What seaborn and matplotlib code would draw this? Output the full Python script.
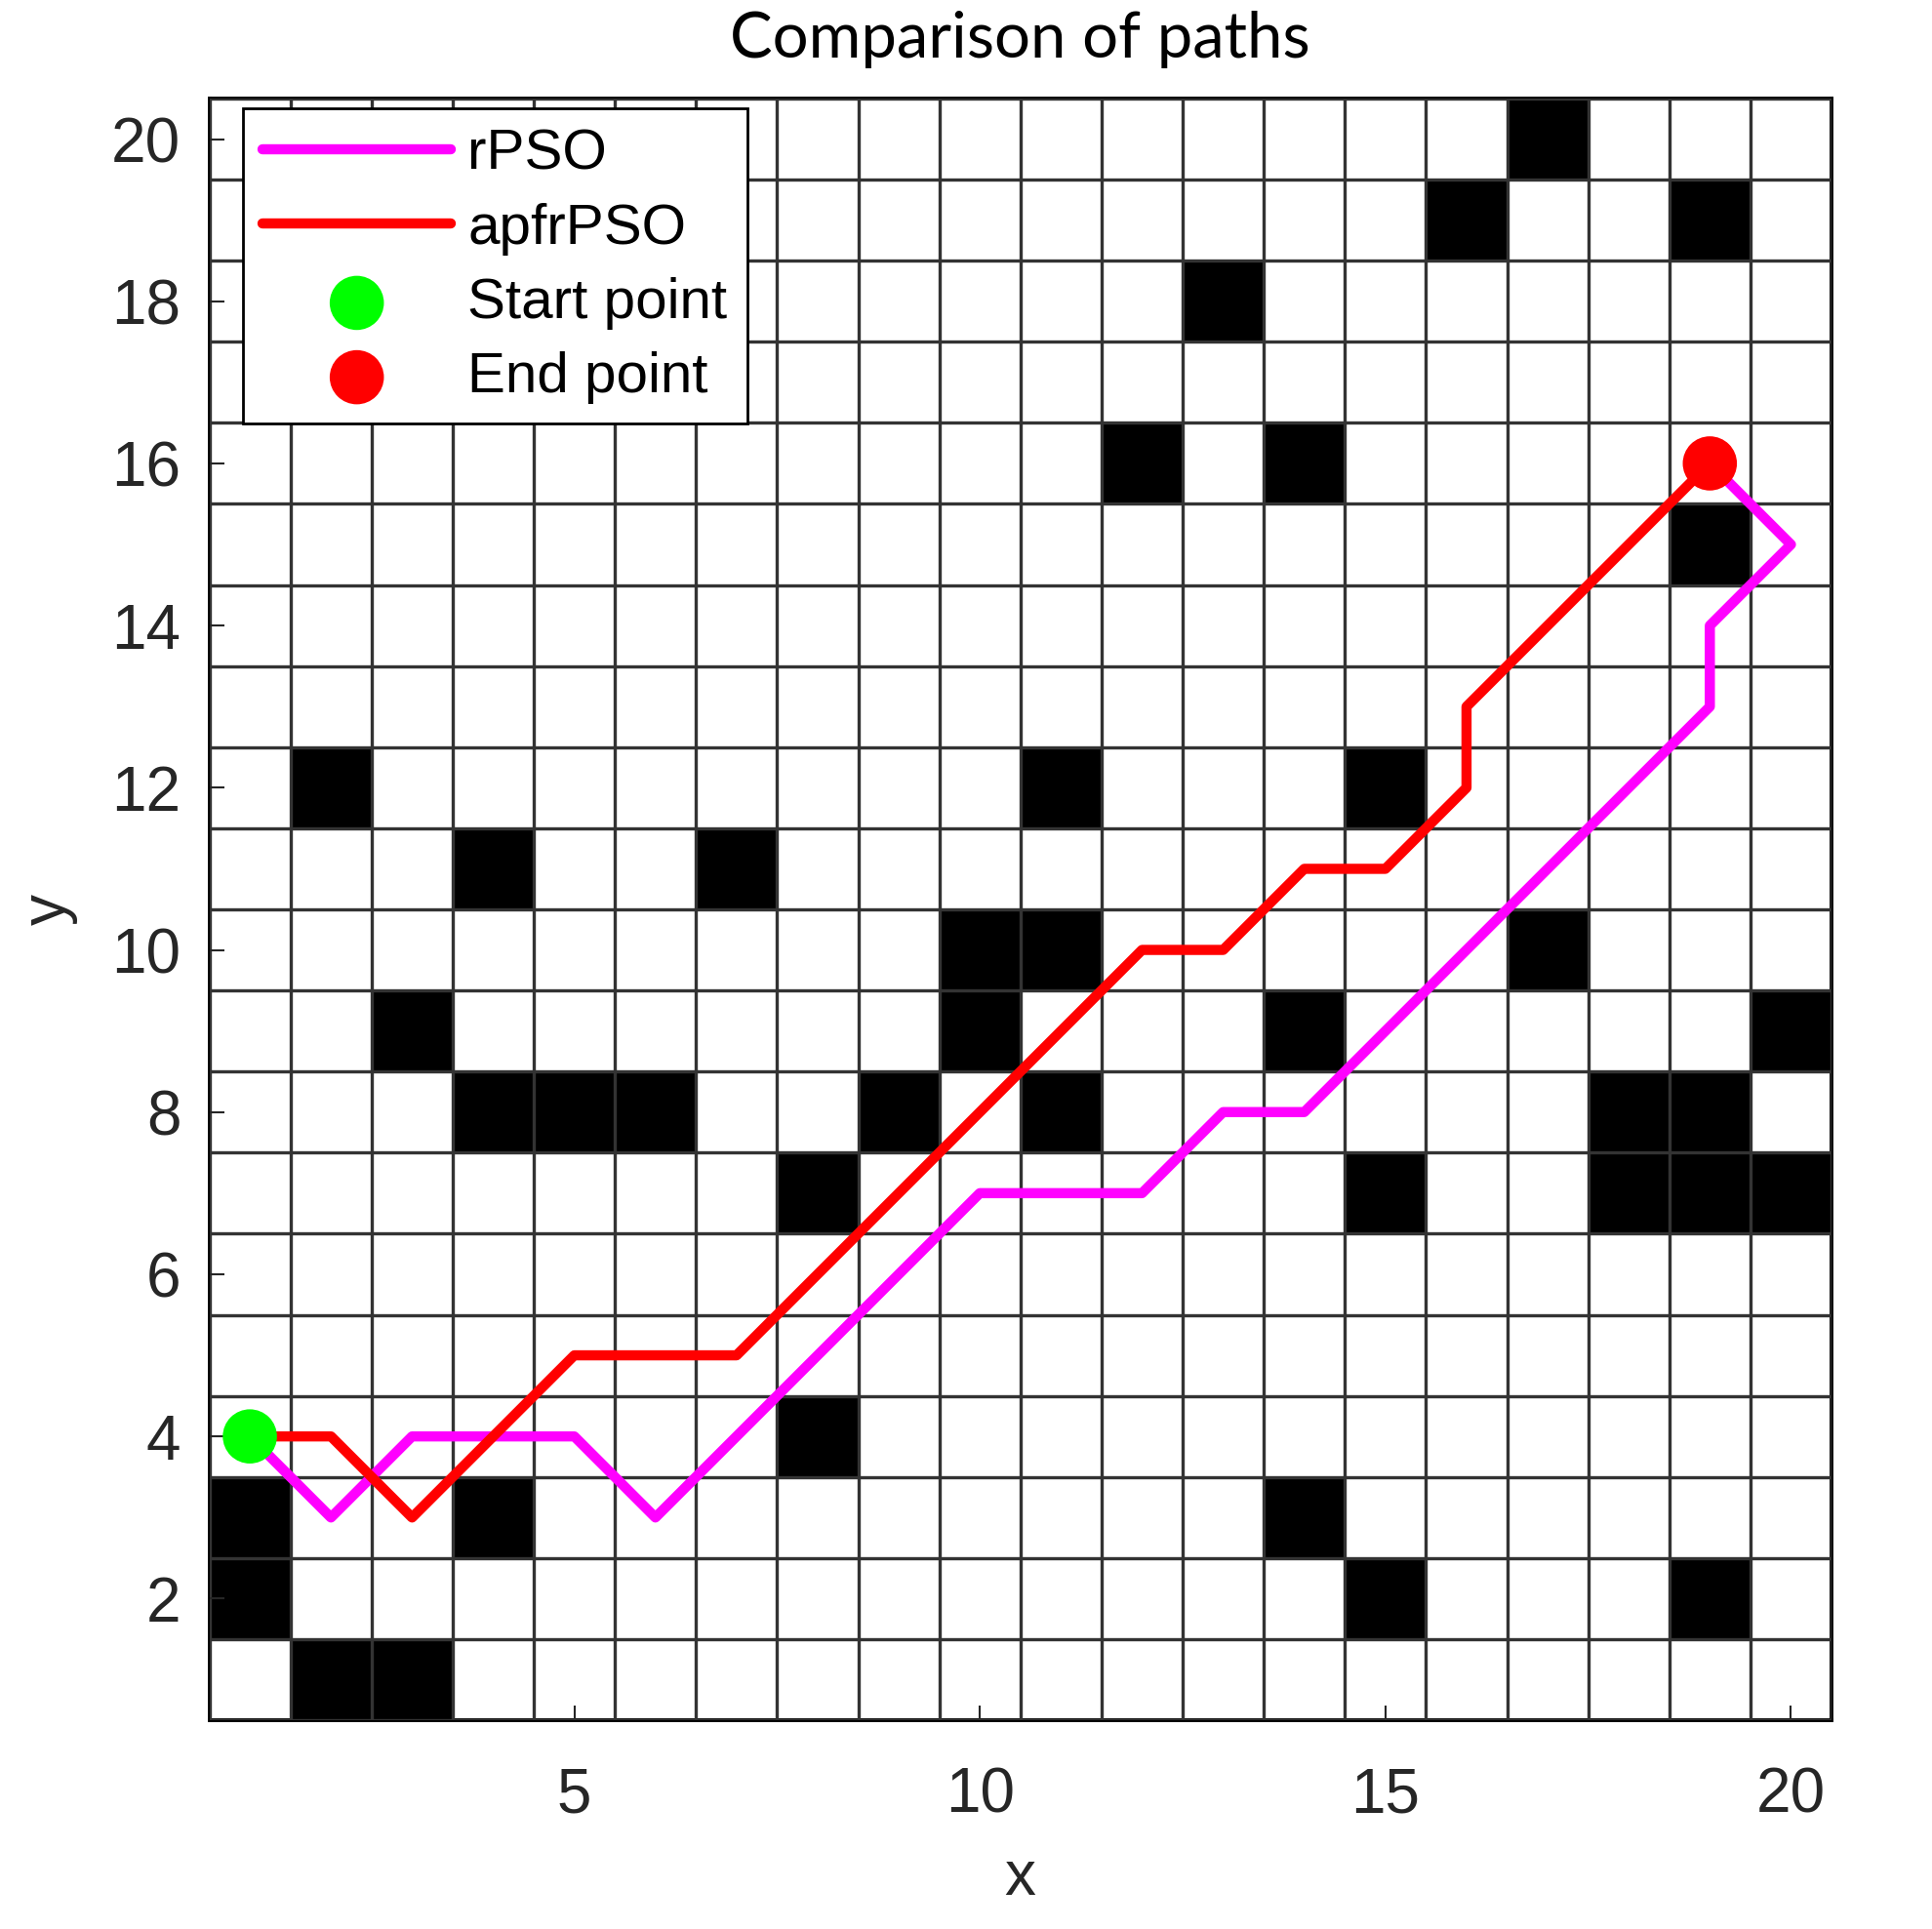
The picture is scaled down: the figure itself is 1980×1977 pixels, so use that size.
import numpy as np
import matplotlib
matplotlib.use("Agg")
import matplotlib.pyplot as plt
from matplotlib.colors import ListedColormap
import seaborn as sns

sns.set_theme(style="white")
plt.rcParams["font.family"] = ["Liberation Sans", "DejaVu Sans"]

# obstacle cells (x, y) on the 20x20 map
obs_x = [17, 16, 19, 13, 12, 14, 19, 2, 11, 15, 4, 7, 10, 11, 17,
         3, 10, 14, 20, 4, 5, 6, 9, 11, 18, 19, 8, 15, 18, 19, 20,
         8, 1, 4, 14, 1, 15, 19, 2, 3]
obs_y = [20, 19, 19, 18, 16, 16, 15, 12, 12, 12, 11, 11, 10, 10, 10,
         9, 9, 9, 9, 8, 8, 8, 8, 8, 8, 8, 7, 7, 7, 7, 7,
         4, 3, 3, 3, 2, 2, 2, 1, 1]

# path waypoints
rpso_x = [1, 2, 3, 4, 5, 6, 7, 8, 9, 10, 11, 12, 13, 14, 15, 16, 17, 18, 19, 19, 20, 19]
rpso_y = [4, 3, 4, 4, 4, 3, 4, 5, 6, 7, 7, 7, 8, 8, 9, 10, 11, 12, 13, 14, 15, 16]
apf_x = [1, 2, 3, 4, 5, 6, 7, 8, 9, 10, 11, 12, 13, 14, 15, 16, 16, 17, 18, 19]
apf_y = [4, 4, 3, 4, 5, 5, 5, 6, 7, 8, 9, 10, 10, 11, 11, 12, 13, 14, 15, 16]

start = (1, 4)
end = (19, 16)
n = 20

grid = np.zeros((n, n))
for cx, cy in zip(obs_x, obs_y):
    grid[cy - 1, cx - 1] = 1

W, H = 1980, 1977
fig = plt.figure(figsize=(W / 100, H / 100), dpi=100)
L, R, T, B = 214.5, 1877, 101, 1763
ax = fig.add_axes([L / W, 1 - B / H, (R - L) / W, (B - T) / H])

ax.imshow(grid, cmap=ListedColormap(["white", "black"]), origin="lower",
          extent=(0.5, n + 0.5, 0.5, n + 0.5), aspect="auto", zorder=0)

sns.lineplot(x=rpso_x, y=rpso_y, sort=False, estimator=None, color="#ff00ff",
             lw=7.5, label="rPSO", ax=ax, zorder=3)
sns.lineplot(x=apf_x, y=apf_y, sort=False, estimator=None, color="#ff0000",
             lw=7.5, label="apfrPSO", ax=ax, zorder=4)
sns.scatterplot(x=[start[0]], y=[start[1]], color="#00ff00", s=1600,
                edgecolor="none", label="Start point", ax=ax, zorder=5)
sns.scatterplot(x=[end[0]], y=[end[1]], color="#ff0000", s=1600,
                edgecolor="none", label="End point", ax=ax, zorder=5)

ax.set_xlim(0.5, n + 0.5)
ax.set_ylim(0.5, n + 0.5)
ax.set_xticks([5, 10, 15, 20])
ax.set_yticks(range(2, 21, 2))
ax.set_xticks(np.arange(0.5, n + 1, 1), minor=True)
ax.set_yticks(np.arange(0.5, n + 1, 1), minor=True)
ax.grid(which="minor", color="0.2", lw=2.4, zorder=1)
ax.set_axisbelow(False)
ax.tick_params(which="minor", length=0)
ax.tick_params(axis="x", which="major", direction="in", length=11, width=1.5,
               labelsize=46, pad=34, colors="#262626", bottom=True)
ax.tick_params(axis="y", which="major", direction="in", length=11, width=1.5,
               labelsize=46, pad=21, colors="#262626", left=True)
for sp in ax.spines.values():
    sp.set_color("black")
    sp.set_linewidth(2.8)

ax.set_xlabel("x", fontsize=46, color="#262626", va="center")
ax.set_ylabel("y", fontsize=46, color="#262626", va="center")
ax.xaxis.set_label_coords(0.5, (B - 1925) / (B - T))
ax.yaxis.set_label_coords((50 - L) / (R - L), 0.5)

fig.text(0.5 * (L + R) / W, 1 - 41 / H, "Comparison of paths", fontsize=47,
         family=["Lato", "DejaVu Sans"], ha="center", va="center", color="black")

leg = ax.legend(loc="upper left", bbox_to_anchor=((249 - L) / (R - L), 1 - (111 - T) / (B - T)),
                borderaxespad=0, fontsize=42, handlelength=3.3, handletextpad=0.3,
                labelspacing=0.38, borderpad=0.35, fancybox=False, framealpha=1,
                edgecolor="black")
leg.get_frame().set_linewidth(2)
for t in leg.get_texts():
    t.set_color("black")

fig.savefig("out.png", dpi=100)
